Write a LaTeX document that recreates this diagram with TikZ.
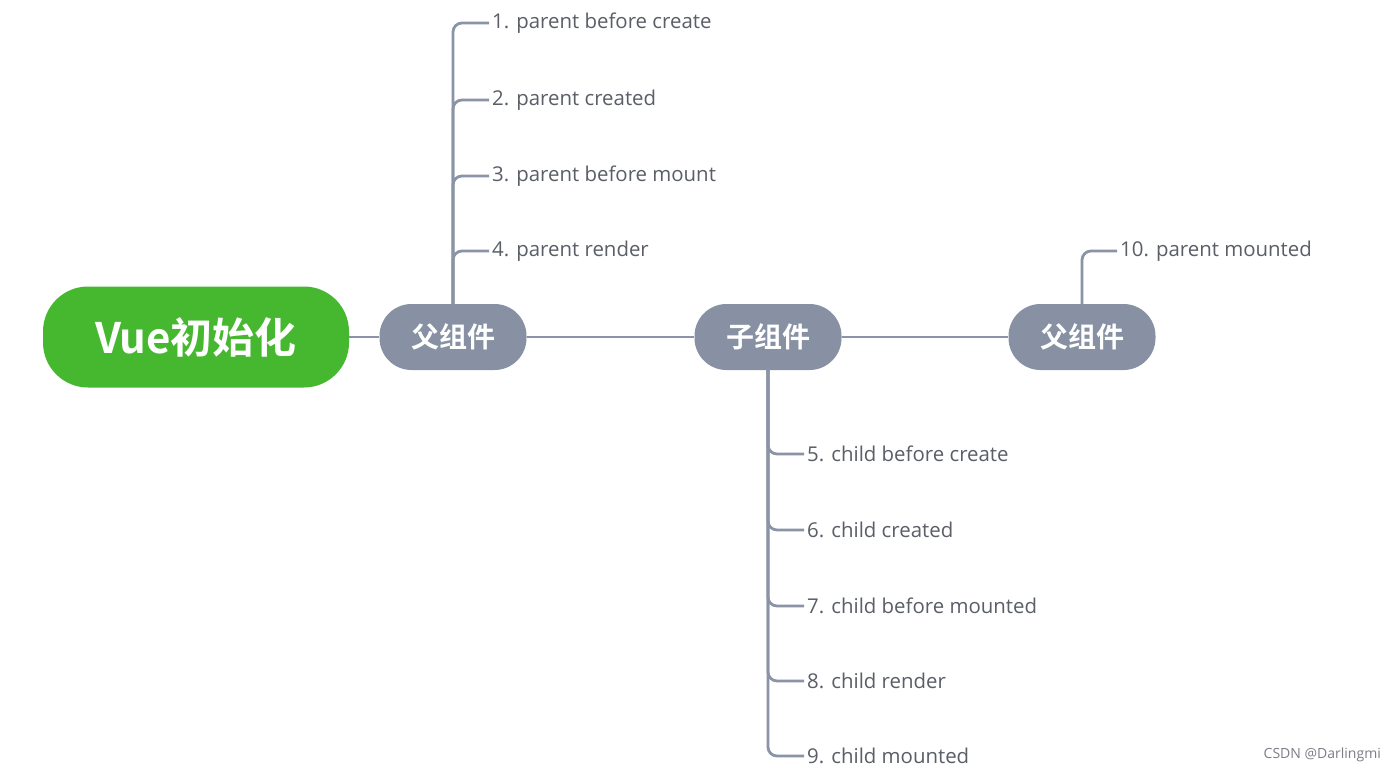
\documentclass[tikz,border=0pt]{standalone}
\usepackage{fontspec}
\setmainfont{Open Sans}
\newfontfamily\cjk{Noto Sans CJK SC}
\newfontfamily\cjkb{Noto Sans CJK SC Bold}
\definecolor{pillgray}{HTML}{8791A3}
\definecolor{linegray}{HTML}{8A94A6}
\definecolor{vuegreen}{HTML}{46B82F}
\definecolor{txtgray}{HTML}{5A5E66}
\tikzset{
  rootbox/.style={fill=vuegreen, text=white, rounded corners=45pt, minimum width=306pt, minimum height=101pt, inner sep=0pt, font=\cjkb\fontsize{42}{50}\selectfont},
  pill/.style={fill=pillgray, text=white, rounded corners=32pt, minimum width=147pt, minimum height=66pt, inner sep=0pt, font=\cjkb\fontsize{28}{32}\selectfont},
  leaf/.style={anchor=west, inner sep=3pt, text=txtgray, font=\fontsize{20.4}{24}\selectfont},
  conn/.style={draw=linegray, line width=2.8pt},
  branch/.style={draw=linegray, line width=2.8pt, rounded corners=9pt}
}
\begin{document}
\begin{tikzpicture}[x=1pt,y=-1pt]
\useasboundingbox[fill=white] (0,0) rectangle (1396,772);
\node[rootbox] (root) at (196,337) {Vue初始化};
\node[pill] (p1) at (453,337) {父组件};
\node[pill] (c) at (768,337) {子组件};
\node[pill] (p2) at (1082,337) {父组件};
\draw[conn] (root) -- (p1);
\draw[conn] (p1) -- (c);
\draw[conn] (c) -- (p2);
\node[leaf] (t1) at (489,23) {1. parent before create};
\node[leaf] (t2) at (489,100) {2. parent created};
\node[leaf] (t3) at (489,176) {3. parent before mount};
\node[leaf] (t4) at (489,251) {4. parent render};
\node[leaf] (t5) at (804,454) {5. child before create};
\node[leaf] (t6) at (804,530) {6. child created};
\node[leaf] (t7) at (804,606) {7. child before mounted};
\node[leaf] (t8) at (804,681) {8. child render};
\node[leaf] (t9) at (804,756) {9. child mounted};
\node[leaf] (t10) at (1117,251) {10. parent mounted};
\foreach \t in {t1,t2,t3,t4} \draw[branch] (p1.north) |- (\t.west);
\foreach \t in {t5,t6,t7,t8,t9} \draw[branch] (c.south) |- (\t.west);
\draw[branch] (p2.north) |- (t10.west);
\node[anchor=east, inner sep=0pt, text=txtgray!80, font=\fontsize{14}{16}\selectfont] (wm) at (1381,755) {CSDN @Darlingmi};
\end{tikzpicture}
\end{document}
